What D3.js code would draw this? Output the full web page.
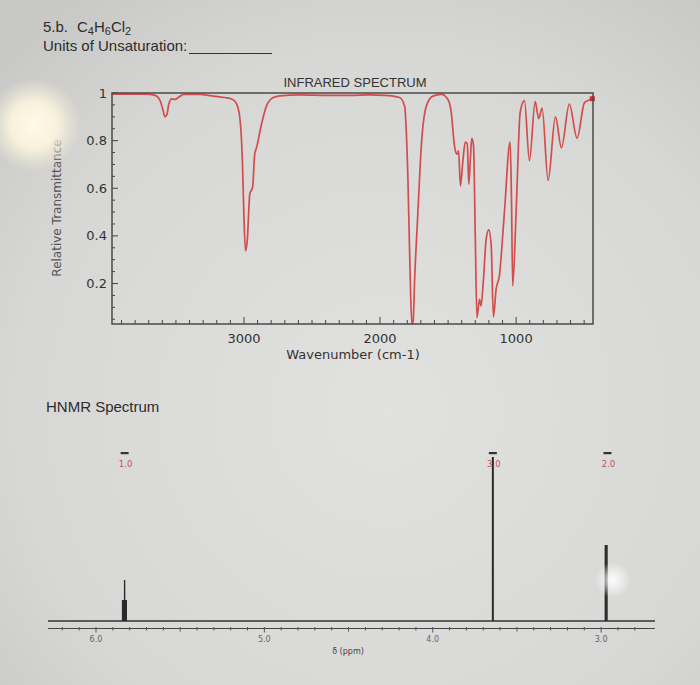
<!DOCTYPE html>
<html>
<head>
<meta charset="utf-8">
<script src="https://cdn.jsdelivr.net/npm/d3@7"></script>
<style>
  html, body { margin: 0; padding: 0; background: #d8d8d6; }
  svg { display: block; }
</style>
</head>
<body>
<svg id="chart" width="700" height="685"></svg>
<script>
// ---------- DATA ----------
const irWavenumber = [3970, 3728, 3654, 3618, 3596, 3581, 3566, 3552, 3530, 3508, 3478, 3442, 3324, 3236, 3141, 3089,
  3055, 3031, 3011, 3001, 2989, 2976, 2957, 2937, 2921, 2908, 2871, 2835, 2788, 2737, 2590, 2370, 2223, 2077, 1966,
  1856, 1820, 1795, 1778, 1766, 1757, 1746, 1722, 1697, 1660, 1612, 1550, 1502, 1477, 1453, 1436, 1423, 1409, 1392,
  1374, 1359, 1348, 1335, 1326, 1313, 1301, 1288, 1269, 1258, 1240, 1220, 1201, 1183, 1167, 1147, 1123, 1086, 1044,
  1034, 1025, 1000, 970, 939, 902, 860, 834, 809, 765, 711, 667, 609, 552, 499, 474, 440];
const irTransmittance = [0.995, 0.995, 0.99, 0.97, 0.93, 0.90, 0.91, 0.955, 0.975, 0.973, 0.983, 0.994, 0.994, 0.988, 0.981, 0.975,
  0.955, 0.898, 0.703, 0.493, 0.337, 0.38, 0.577, 0.603, 0.744, 0.77, 0.87, 0.945, 0.98, 0.988, 0.992, 0.99, 0.99, 0.992, 0.99,
  0.981, 0.945, 0.636, 0.215, 0.03, 0.04, 0.215, 0.497, 0.776, 0.944, 0.987, 0.994, 0.974, 0.92, 0.778, 0.743, 0.757, 0.61, 0.71,
  0.794, 0.786, 0.617, 0.736, 0.81, 0.778, 0.428, 0.056, 0.134, 0.106, 0.218, 0.387, 0.425, 0.36, 0.06, 0.176, 0.232, 0.50, 0.795,
  0.555, 0.19, 0.50, 0.92, 0.968, 0.716, 0.964, 0.892, 0.937, 0.633, 0.90, 0.77, 0.953, 0.81, 0.958, 0.968, 0.976];
const irXTicks = [3000, 2000, 1000];
const irYTicks = [0.2, 0.4, 0.6, 0.8, 1];

const nmrPeakPpm    = [5.842, 5.837, 5.831, 5.830, 5.825, 5.820, 3.643, 2.975, 2.970, 2.965];
const nmrPeakHeight = [0.128, 0.128, 0.128, 0.25, 0.128, 0.128, 1.0, 0.463, 0.463, 0.463];
const nmrIntegralPpm   = [5.830, 3.643, 2.962];
const nmrIntegralLabel = ["1.0", "3.0", "2.0"];
const nmrTicks = [6.0, 5.0, 4.0, 3.0];

// ---------- SETUP ----------
const svg = d3.select("#chart");
const defs = svg.append("defs");

const bg = defs.append("radialGradient").attr("id", "bg").attr("cx", "55%").attr("cy", "60%").attr("r", "75%");
bg.append("stop").attr("offset", "0%").attr("stop-color", "#e1e1df");
bg.append("stop").attr("offset", "70%").attr("stop-color", "#d7d7d5");
bg.append("stop").attr("offset", "100%").attr("stop-color", "#c8c8c6");
svg.append("rect").attr("width", 700).attr("height", 685).attr("fill", "url(#bg)");

const sans = "'Liberation Sans', Arial, sans-serif";
const dv = "'DejaVu Sans', Verdana, sans-serif";

// ---------- HEADER ----------
svg.append("text").attr("x", 43).attr("y", 32).attr("font-family", sans).attr("font-size", 15).attr("fill", "#2d2d2d").text("5.b.");
const f = svg.append("text").attr("x", 77).attr("y", 32).attr("font-family", sans).attr("font-size", 15).attr("fill", "#2d2d2d");
[["C", false], ["4", true], ["H", false], ["6", true], ["Cl", false], ["2", true]].forEach(([t, sub]) => {
  f.append("tspan").attr("font-size", sub ? 11 : 15).attr("dy", sub ? 3 : (t === "C" ? 0 : -3)).text(t);
});
svg.append("text").attr("x", 43).attr("y", 51).attr("font-family", sans).attr("font-size", 15).attr("fill", "#2d2d2d").text("Units of Unsaturation:");
svg.append("line").attr("x1", 189).attr("x2", 272).attr("y1", 53.5).attr("y2", 53.5).attr("stroke", "#333").attr("stroke-width", 1.2);

// ---------- IR SPECTRUM ----------
const ir = { left: 112, right: 593, top: 93, bottom: 324 };
const x = d3.scaleLinear().domain([3970, 435]).range([ir.left, ir.right]);
const y = d3.scaleLinear().domain([0.03, 1]).range([ir.bottom, ir.top]);

svg.append("text").attr("x", 355).attr("y", 87).attr("text-anchor", "middle")
  .attr("font-family", sans).attr("font-size", 13).attr("fill", "#333").text("INFRARED SPECTRUM");

// minor/major x ticks (inside, pointing up)
const xMinor = d3.range(3900, 400, -100);
svg.append("g").selectAll("line").data(xMinor).join("line")
  .attr("x1", d => x(d)).attr("x2", d => x(d))
  .attr("y1", ir.bottom).attr("y2", d => ir.bottom - (d % 1000 === 0 ? 7 : 4))
  .attr("stroke", "#444").attr("stroke-width", 1);
svg.append("g").selectAll("text").data(irXTicks).join("text")
  .attr("x", d => x(d)).attr("y", 343).attr("text-anchor", "middle")
  .attr("font-family", dv).attr("font-size", 13).attr("fill", "#333").text(d => d);

// y ticks
const yMinor = d3.range(0.05, 1.0001, 0.05);
svg.append("g").selectAll("line").data(yMinor).join("line")
  .attr("x1", ir.left).attr("x2", d => ir.left + (Math.abs(d * 5 - Math.round(d * 5)) < 1e-6 ? 6 : 3))
  .attr("y1", d => y(d)).attr("y2", d => y(d))
  .attr("stroke", "#444").attr("stroke-width", 1);
svg.append("g").selectAll("text").data(irYTicks).join("text")
  .attr("x", 107).attr("y", d => y(d) + 4.5).attr("text-anchor", "end")
  .attr("font-family", dv).attr("font-size", 13).attr("fill", "#333")
  .text(d => d === 1 ? "1" : d3.format(".1f")(d));

svg.append("text").attr("transform", "translate(61,208) rotate(-90)").attr("text-anchor", "middle")
  .attr("font-family", dv).attr("font-size", 12).attr("fill", "#555").text("Relative Transmittance");
svg.append("text").attr("x", 353).attr("y", 359).attr("text-anchor", "middle")
  .attr("font-family", dv).attr("font-size", 13).attr("fill", "#333").text("Wavenumber (cm-1)");

// curve
const irData = irWavenumber.map((w, i) => [w, irTransmittance[i]]);
svg.append("path").datum(irData)
  .attr("d", d3.line().x(d => x(d[0])).y(d => y(d[1])).curve(d3.curveMonotoneX))
  .attr("fill", "none").attr("stroke", "#d24d4d").attr("stroke-width", 1.7).attr("stroke-linejoin", "round");
const last = irData[irData.length - 1];
svg.append("rect").attr("x", x(last[0]) - 2.5).attr("y", y(last[1]) - 2.5).attr("width", 5).attr("height", 5).attr("fill", "#d03030");

// frame
svg.append("rect").attr("x", ir.left).attr("y", ir.top).attr("width", ir.right - ir.left).attr("height", ir.bottom - ir.top)
  .attr("fill", "none").attr("stroke", "#4a4a4a").attr("stroke-width", 1.5);

// ---------- HNMR ----------
svg.append("text").attr("x", 46).attr("y", 412).attr("font-family", sans).attr("font-size", 15).attr("fill", "#2d2d2d").text("HNMR Spectrum");

const nx = d3.scaleLinear().domain([6.285, 2.68]).range([48, 655]);
const ny = d3.scaleLinear().domain([0, 1]).range([621, 457]);

svg.append("line").attr("x1", 48).attr("x2", 655).attr("y1", ny(0)).attr("y2", ny(0)).attr("stroke", "#333").attr("stroke-width", 1.5);
svg.append("line").attr("x1", 48).attr("x2", 655).attr("y1", 628.5).attr("y2", 628.5).attr("stroke", "#444").attr("stroke-width", 1.2);

const nMinor = d3.range(62, 27, -1).map(v => v / 10);
svg.append("g").selectAll("line").data(nMinor).join("line")
  .attr("x1", d => nx(d)).attr("x2", d => nx(d))
  .attr("y1", 627).attr("y2", d => 628.5 + (Math.abs(d - Math.round(d)) < 1e-6 ? 4 : (Math.abs(d * 2 - Math.round(d * 2)) < 1e-6 ? 3 : 2)))
  .attr("stroke", "#555").attr("stroke-width", 1);
svg.append("g").selectAll("text").data(nmrTicks).join("text")
  .attr("x", d => nx(d)).attr("y", 642).attr("text-anchor", "middle")
  .attr("font-family", dv).attr("font-size", 8).attr("fill", "#666").text(d => d3.format(".1f")(d));
svg.append("text").attr("x", 348).attr("y", 654).attr("text-anchor", "middle")
  .attr("font-family", dv).attr("font-size", 8).attr("fill", "#444").text("δ (ppm)");

svg.append("g").selectAll("line").data(nmrPeakPpm).join("line")
  .attr("x1", d => nx(d)).attr("x2", d => nx(d))
  .attr("y1", ny(0)).attr("y2", (d, i) => ny(nmrPeakHeight[i]))
  .attr("stroke", "#2a2a2a").attr("stroke-width", (d, i) => nmrPeakHeight[i] === 1 ? 2 : 1.4);

// integration labels
const ig = svg.append("g");
ig.selectAll("rect").data(nmrIntegralPpm).join("rect")
  .attr("x", d => nx(d) - 4).attr("y", 452).attr("width", 8).attr("height", 2.2).attr("fill", "#333");
ig.selectAll("text").data(nmrIntegralPpm).join("text")
  .attr("x", d => nx(d) + 1).attr("y", 467).attr("text-anchor", "middle")
  .attr("font-family", dv).attr("font-size", 8.5).attr("fill", "#c05656")
  .text((d, i) => nmrIntegralLabel[i]);

// ---------- glare ----------
const g1 = defs.append("radialGradient").attr("id", "glare1");
g1.append("stop").attr("offset", "0%").attr("stop-color", "#fffbea").attr("stop-opacity", 1);
g1.append("stop").attr("offset", "50%").attr("stop-color", "#fff7df").attr("stop-opacity", 0.85);
g1.append("stop").attr("offset", "100%").attr("stop-color", "#f5efd8").attr("stop-opacity", 0);
svg.append("circle").attr("cx", 34).attr("cy", 125).attr("r", 47).attr("fill", "url(#glare1)");
const g2 = defs.append("radialGradient").attr("id", "glare2");
g2.append("stop").attr("offset", "0%").attr("stop-color", "#ffffff").attr("stop-opacity", 0.95);
g2.append("stop").attr("offset", "100%").attr("stop-color", "#ffffff").attr("stop-opacity", 0);
svg.append("circle").attr("cx", 613).attr("cy", 580).attr("r", 18).attr("fill", "url(#glare2)");
</script>
</body>
</html>
